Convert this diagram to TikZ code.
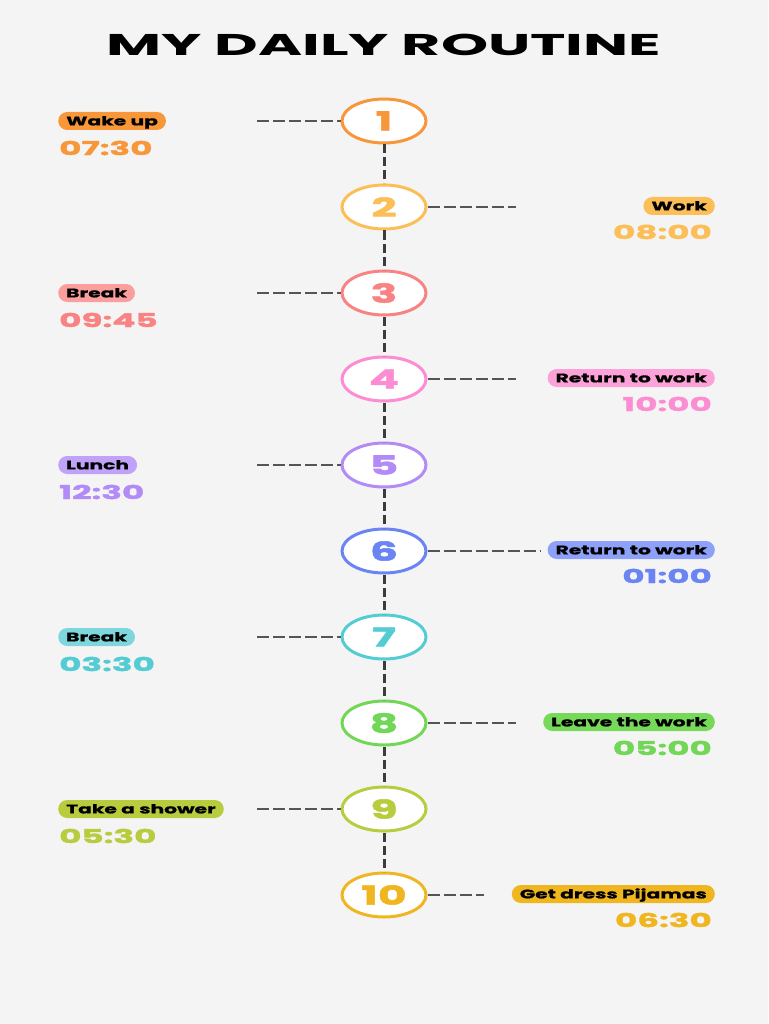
\documentclass[tikz,border=0pt]{standalone}
\usepackage{fontspec}
\setmainfont{Poppins}
\newfontfamily\titlefont{Poppins}[FakeStretch=2.0]
\newfontfamily\pillfont{Poppins}[FakeStretch=1.62, FakeBold=1]
\newfontfamily\timefont{Poppins}[FakeStretch=1.8, FakeBold=2]
\newfontfamily\numfont{Poppins}[FakeStretch=1.7, FakeBold=2]
\usetikzlibrary{shapes.geometric}
\definecolor{bgc}{HTML}{F4F4F4}
\definecolor{cA}{HTML}{F7973A}\definecolor{pA}{HTML}{F7973A}
\definecolor{cB}{HTML}{FCBF58}\definecolor{pB}{HTML}{FCBF58}
\definecolor{cC}{HTML}{F98383}\definecolor{pC}{HTML}{FA9E9E}
\definecolor{cD}{HTML}{FD8DD3}\definecolor{pD}{HTML}{FDA2D9}
\definecolor{cE}{HTML}{B38BF7}\definecolor{pE}{HTML}{C0A2F8}
\definecolor{cF}{HTML}{6A84F4}\definecolor{pF}{HTML}{8CA1F7}
\definecolor{cG}{HTML}{54CCD3}\definecolor{pG}{HTML}{7DD7DD}
\definecolor{cH}{HTML}{72D656}\definecolor{pH}{HTML}{77D95A}
\definecolor{cI}{HTML}{B8CC3E}\definecolor{pI}{HTML}{B8CC3E}
\definecolor{cJ}{HTML}{F0B620}\definecolor{pJ}{HTML}{F0B620}
\definecolor{dashc}{HTML}{3C3C3C}
\definecolor{hdashc}{HTML}{555555}
\tikzset{
  stepcirc/.style={ellipse, draw=#1, fill=white, line width=3pt, minimum width=84pt, minimum height=44pt, inner sep=0pt, text=#1, font=\numfont\bfseries\fontsize{26}{26}\selectfont},
  pill/.style={rounded corners=9pt, fill=#1, text=black, inner xsep=8pt, inner ysep=0pt, text height=8.8pt, text depth=0pt, minimum height=18pt, font=\pillfont\bfseries\fontsize{12.5}{12.5}\selectfont},
  timetxt/.style={text=#1, inner sep=0pt, font=\timefont\bfseries\fontsize{19}{19}\selectfont},
  hdash/.style={draw=hdashc, line width=1.5pt, dash pattern=on 12pt off 4pt},
  vdash/.style={draw=dashc, line width=3pt, dash pattern=on 9pt off 4pt},
}
\begin{document}
\begin{tikzpicture}[x=1pt,y=-1pt]
\fill[bgc] (0,0) rectangle (768,1024);
\useasboundingbox (0,0) rectangle (768,1024);
\node[font=\titlefont\bfseries\fontsize{30}{30}\selectfont, inner sep=0pt] (title) at (384,45) {MY DAILY ROUTINE};
% circles
\foreach \i/\y/\c in {1/121/cA,2/207/cB,3/293/cC,4/379/cD,5/465/cE,6/551/cF,7/637/cG,8/723/cH,9/809/cI,10/895/cJ}{
  \node[stepcirc=\c] (c\i) at (384,\y) {\i};
}
\foreach \a/\b in {1/2,2/3,3/4,4/5,5/6,6/7,7/8,8/9,9/10}{
  \draw[vdash] (c\a.south) -- (c\b.north);
}
% left items
\foreach \i/\y/\c/\p/\lab/\tm in {1/121/cA/pA/Wake up/07:30,3/293/cC/pC/Break/09:45,5/465/cE/pE/Lunch/12:30,7/637/cG/pG/Break/03:30,9/809/cI/pI/Take a shower/05:30}{
  \coordinate (e\i) at (257,\y);
  \draw[hdash] (e\i) -- (c\i.west);
  \node[pill=\p, anchor=west] (l\i) at (58,\y) {\lab};
  \node[timetxt=\c, anchor=west] (t\i) at (59,\y+27) {\tm};
}
% right items
\foreach \i/\y/\x/\c/\p/\lab/\tm in {2/207/516/cB/pB/Work/08:00,4/379/516/cD/pD/Return to work/10:00,6/551/540/cF/pF/Return to work/01:00,8/723/516/cH/pH/Leave the work/05:00,10/895/484/cJ/pJ/Get dress Pijamas/06:30}{
  \coordinate (e\i) at (\x,\y);
  \draw[hdash] (c\i.east) -- (e\i);
  \node[pill=\p, anchor=east] (l\i) at (715,\y-1) {\lab};
  \node[timetxt=\c, anchor=east] (t\i) at (712,\y+25) {\tm};
}
\end{tikzpicture}
\end{document}
